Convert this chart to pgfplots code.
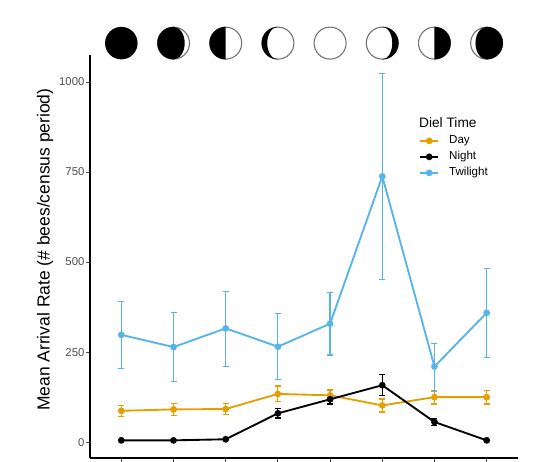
\documentclass[border=0pt]{standalone}
\usepackage{pgfplots}
\pgfplotsset{compat=1.18}
\usepackage{pgfplotstable}
\usepackage{fontspec}
\setmainfont{Liberation Sans}

\definecolor{dayc}{HTML}{E69F00}
\definecolor{twic}{HTML}{56B4E9}
\definecolor{tickc}{HTML}{4D4D4D}
\definecolor{rimc}{HTML}{707070}

% mean and error per moon phase (0 = new moon ... 7 = waning crescent)
\pgfplotstableread{
x y e
0 87 15
1 91 16
2 92 15
3 134 22
4 130 15
5 102 18
6 125 19
7 125 19
}\dayt
\pgfplotstableread{
x y e
0 5 0
1 5 0
2 8 0
3 80 13
4 119 13
5 158 29
6 56 10
7 5 0
}\nightt
\pgfplotstableread{
x y ep em
0 298 93 93
1 264 97 96
2 316 103 105
3 265 92 90
4 329 87 87
5 738 286 286
6 210 65 69
7 359 123 124
}\twit

\begin{document}
\begin{tikzpicture}
\useasboundingbox (-67.5pt,-2.25pt) rectangle (334.5pt,343.5pt);
\begin{axis}[
    at={(0,0)}, anchor=south west,
    scale only axis,
    width=321pt, height=302.25pt,
    xmin=-0.6, xmax=7.6,
    ymin=-44, ymax=1075,
    axis x line*=bottom, axis y line*=left,
    axis line style={line width=0.9pt, black, -},
    xtick={0,...,7}, xticklabels={},
    ytick={0,250,500,750,1000},
    tick align=outside,
    major tick length=3pt,
    tick style={line width=0.75pt, tickc},
    yticklabel style={font=\fontsize{8.5}{9}\selectfont, text=tickc, inner sep=1pt},
    /pgf/number format/assume math mode=true,
    /pgf/number format/1000 sep={},
    ylabel={Mean Arrival Rate (\# bees/census period)},
    ylabel style={at={(axis description cs:-0.1051,0.517)}, anchor=center,
        font=\fontsize{13.1}{15}\selectfont},
    clip=false,
    legend style={at={(axis description cs:0.7687,0.8414)}, anchor=north west,
        draw=none, fill=none, inner sep=0pt, row sep=3.5pt, column sep=7.5pt,
        nodes={inner sep=0pt, outer sep=0pt, text height=6.5pt, text depth=2pt},
        font=\fontsize{8.7}{9}\selectfont},
    legend cell align=left,
    legend image code/.code={\draw[mark repeat=2,mark phase=2,#1]
        plot coordinates {(0pt,0pt) (6.75pt,0pt) (13.5pt,0pt)};},
    every axis plot/.append style={line width=1.4pt, mark=*, mark size=1.8pt,
        error bars/error bar style={line width=0.9pt},
        error bars/error mark options={line width=0.9pt, mark size=2.25pt, rotate=90}},
]
\addlegendimage{empty legend}
\addplot[dayc, error bars/.cd, y dir=both, y explicit]
    table[x=x, y=y, y error=e] {\dayt};
\addplot[black, error bars/.cd, y dir=both, y explicit]
    table[x=x, y=y, y error=e] {\nightt};
\addplot[twic, error bars/.cd, y dir=both, y explicit]
    table[x=x, y=y, y error plus=ep, y error minus=em] {\twit};
\legend{{\hspace{-22.5pt}\fontsize{10.3}{12}\selectfont Diel Time}, Day, Night, Twilight}

\coordinate (m1) at (axis cs:0,1108);
\coordinate (m2) at (axis cs:1,1108);
\coordinate (m3) at (axis cs:2,1108);
\coordinate (m4) at (axis cs:3,1108);
\coordinate (m5) at (axis cs:4,1108);
\coordinate (m6) at (axis cs:5,1108);
\coordinate (m7) at (axis cs:6,1108);
\coordinate (m8) at (axis cs:7,1108);
\end{axis}

% moon phases
\foreach \m in {m2,m3,m4,m5,m6,m7,m8}
    \draw[rimc, line width=0.8pt, fill=white] (\m) circle[radius=12pt];
\fill[black] (m1) circle[radius=12.2pt];
\begin{scope}[shift={(m2)}]
    \fill[black] (0,12.2pt) arc[start angle=90, end angle=270, radius=12.2pt]
        arc[start angle=-90, end angle=90, x radius=8.4pt, y radius=12.2pt] -- cycle;
\end{scope}
\begin{scope}[shift={(m3)}]
    \fill[black] (0,12.2pt) arc[start angle=90, end angle=270, radius=12.2pt] -- cycle;
\end{scope}
\begin{scope}[shift={(m4)}]
    \fill[black] (0,12.2pt) arc[start angle=90, end angle=270, radius=12.2pt]
        arc[start angle=-90, end angle=-270, x radius=8pt, y radius=12.2pt] -- cycle;
\end{scope}
\begin{scope}[shift={(m6)}]
    \fill[black] (0,12.2pt) arc[start angle=90, end angle=-90, radius=12.2pt]
        arc[start angle=-90, end angle=90, x radius=7.5pt, y radius=12.2pt] -- cycle;
\end{scope}
\begin{scope}[shift={(m7)}]
    \fill[black] (0,12.2pt) arc[start angle=90, end angle=-90, radius=12.2pt] -- cycle;
\end{scope}
\begin{scope}[shift={(m8)}]
    \fill[black] (0,12.2pt) arc[start angle=90, end angle=-90, radius=12.2pt]
        arc[start angle=-90, end angle=-270, x radius=8.4pt, y radius=12.2pt] -- cycle;
\end{scope}
\end{tikzpicture}
\end{document}
